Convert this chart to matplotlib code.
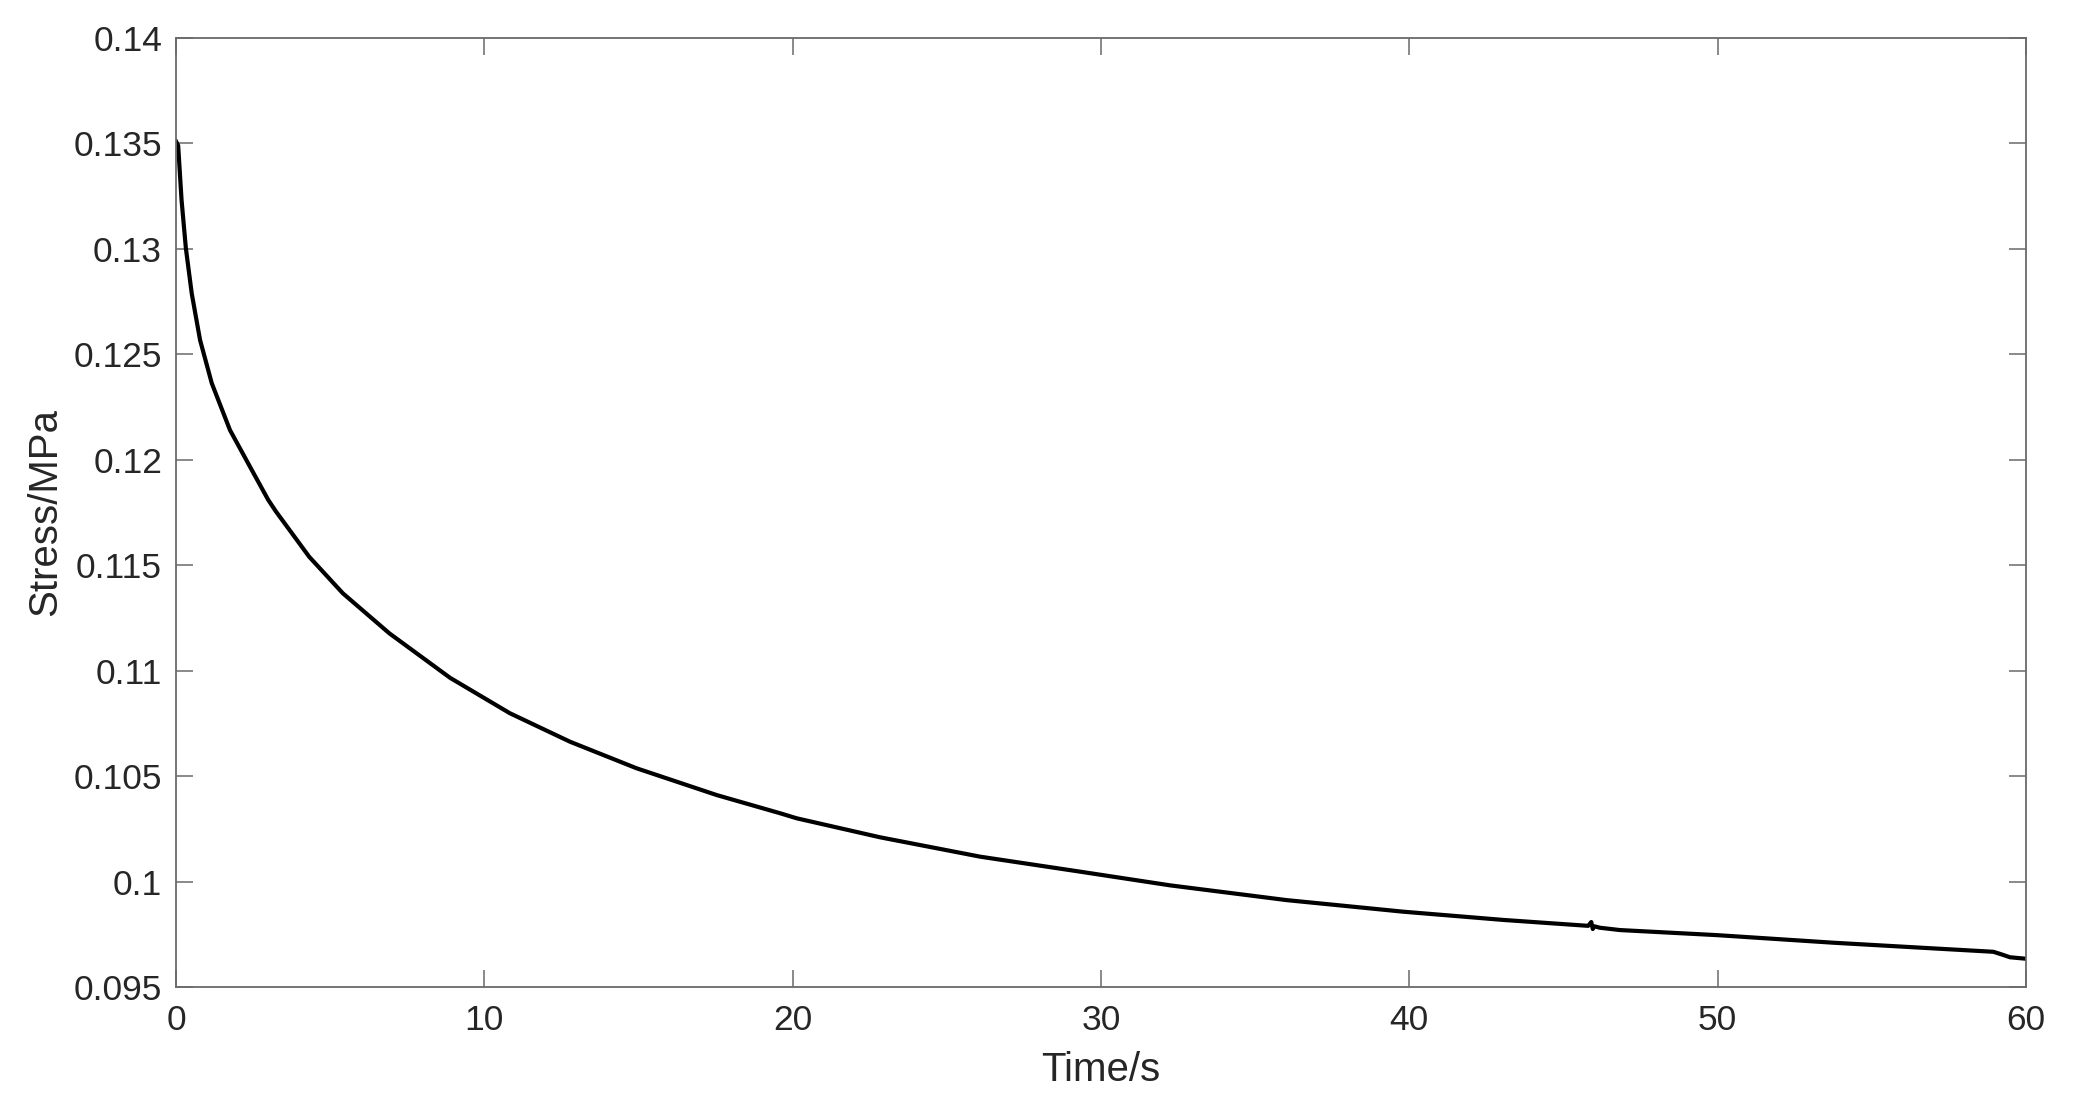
import matplotlib
matplotlib.use("Agg")
import matplotlib.pyplot as plt
from matplotlib.ticker import FixedLocator, FixedFormatter

# Data
time_s = [0.0, 0.07, 0.18, 0.32, 0.51, 0.78, 1.16, 1.75, 2.4, 2.99, 3.24, 4.32,
          5.41, 6.92, 8.89, 10.83, 12.78, 14.94, 17.54, 19.59, 20.13, 22.83,
          26.08, 29.32, 32.24, 36.02, 39.81, 43.05, 45.8, 45.9, 45.95, 46.0,
          46.18, 46.83, 49.97, 53.75, 57.0, 58.94, 59.2, 59.48, 60.0]
stress_mpa = [0.1351, 0.1349, 0.13232, 0.13003, 0.12789, 0.12568, 0.12363,
              0.12141, 0.11967, 0.11810, 0.11755, 0.1154, 0.11367, 0.11177,
              0.10966, 0.10798, 0.10663, 0.10537, 0.1041, 0.10324, 0.1030,
              0.1021, 0.10118, 0.10047, 0.09982, 0.09912, 0.09857, 0.09818,
              0.09790, 0.09808, 0.09775, 0.09788, 0.09781, 0.0977, 0.09746,
              0.0971, 0.09683, 0.09667, 0.09655, 0.09641, 0.09634]

x_ticks = [0, 10, 20, 30, 40, 50, 60]
x_tick_labels = ["0", "10", "20", "30", "40", "50", "60"]
y_ticks = [0.095, 0.1, 0.105, 0.11, 0.115, 0.12, 0.125, 0.13, 0.135, 0.14]
y_tick_labels = ["0.095", "0.1", "0.105", "0.11", "0.115", "0.12", "0.125",
                 "0.13", "0.135", "0.14"]

plt.rcParams['font.family'] = ['Liberation Sans', 'DejaVu Sans']

text_color = "#262626"
axis_color = "#6a6a6a"

fig = plt.figure(figsize=(20.73, 11.13), dpi=100)
ax = fig.add_axes([176/2073, 1 - 987/1113, (2026-176)/2073, (987-38)/1113])

ax.plot(time_s, stress_mpa, color="black", linewidth=3.0, solid_joinstyle="round")

ax.set_xlim(0, 60)
ax.set_ylim(0.095, 0.14)
ax.xaxis.set_major_locator(FixedLocator(x_ticks))
ax.xaxis.set_major_formatter(FixedFormatter(x_tick_labels))
ax.yaxis.set_major_locator(FixedLocator(y_ticks))
ax.yaxis.set_major_formatter(FixedFormatter(y_tick_labels))

for s in ax.spines.values():
    s.set_color(axis_color)
    s.set_linewidth(1.3)

ax.tick_params(axis="both", which="major", direction="in", length=12, width=1.1,
               color=axis_color, labelsize=25.5, labelcolor=text_color,
               top=True, right=True)
ax.tick_params(axis="x", pad=12.5)
ax.tick_params(axis="y", pad=10)

ax.set_xlabel("Time/s", fontsize=29, color=text_color, labelpad=10)
ax.set_ylabel("Stress/MPa", fontsize=29, color=text_color, labelpad=7)

fig.savefig("out.png", dpi=100, facecolor="white")
